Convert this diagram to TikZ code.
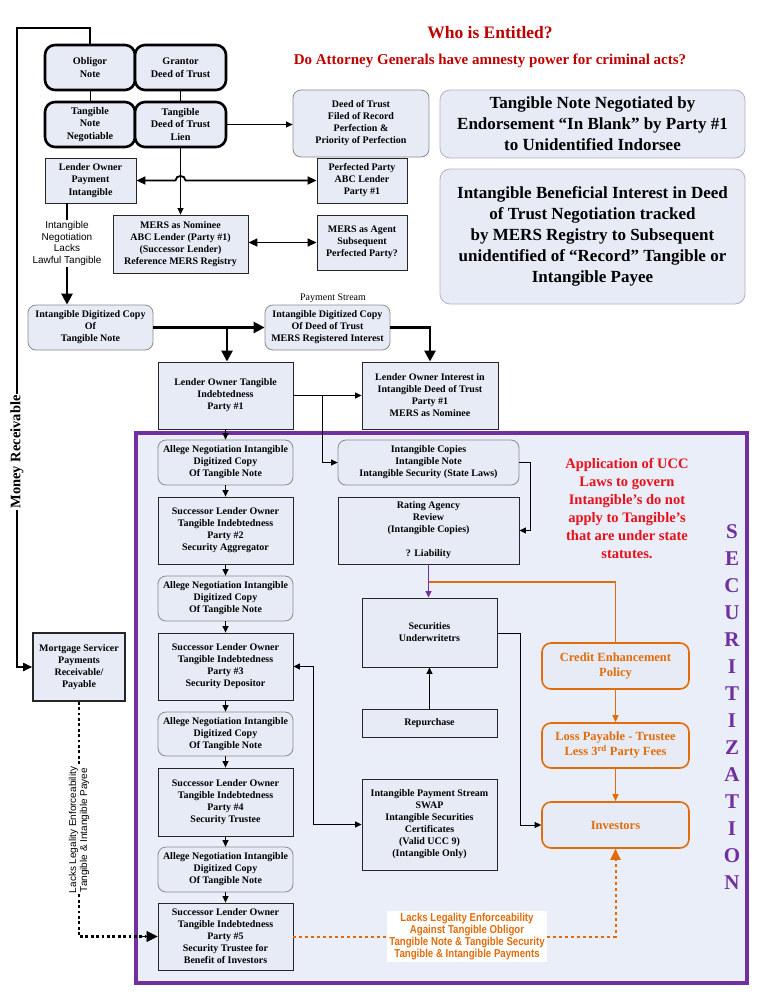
\documentclass[tikz,border=0pt]{standalone}
\usepackage{fontspec}
\setmainfont{Liberation Serif}
\newfontfamily\arialf{Liberation Sans}
\newfontfamily\narrowf[FakeStretch=0.84]{Liberation Sans}
\usetikzlibrary{arrows.meta}
\definecolor{boxfill}{HTML}{E6EBF5}
\definecolor{framefill}{HTML}{EAEEF8}
\definecolor{secpurple}{HTML}{7030A0}
\definecolor{darkred}{HTML}{C00000}
\definecolor{brightred}{HTML}{E8101A}
\definecolor{orng}{HTML}{E36C0A}
\definecolor{bigedge}{HTML}{B4AECA}
\tikzset{
  box/.style={draw=black!85,line width=0.9pt,fill=boxfill,align=center,inner sep=0pt,
    font=\bfseries\fontsize{10}{12}\selectfont},
  rbox/.style={box,draw=black!45,rounded corners=8pt,line width=0.8pt},
  tkbox/.style={box,draw=black,line width=2.6pt,rounded corners=10pt,
    font=\bfseries\fontsize{10.2}{12.6}\selectfont},
  obox/.style={box,draw=orng,text=orng,line width=1.6pt,rounded corners=9pt,
    font=\bfseries\fontsize{12.5}{15}\selectfont},
  bigbox/.style={box,draw=bigedge,line width=0.8pt,rounded corners=10pt,
    font=\bfseries\fontsize{17}{21}\selectfont},
  arthin/.style={line width=0.8pt,-{Triangle[length=6.5pt,width=6pt]}},
  arthk/.style={line width=2.6pt,-{Triangle[length=11pt,width=11pt]}},
  armed/.style={line width=1.8pt,{Triangle[length=9pt,width=8pt]}-{Triangle[length=9pt,width=8pt]}},
  dotln/.style={line width=2.8pt,dash pattern=on 2.8pt off 2.6pt},
  orline/.style={draw=orng,line width=1.2pt},
}
\begin{document}
\begin{tikzpicture}[x=1pt,y=-1pt]
\useasboundingbox (0,0) rectangle (768,994);
\fill[white] (0,0) rectangle (768,994);

% securitization frame
\draw[secpurple,line width=3.5pt,fill=framefill] (136,433) rectangle (747,983);

% titles
\node[text=darkred,font=\bfseries\fontsize{17.5}{20}\selectfont] (t1) at (490,33) {Who is Entitled?};
\node[text=darkred,font=\bfseries\fontsize{15}{17}\selectfont] (t2) at (490,61) {Do Attorney Generals have amnesty power for criminal acts?};

% top boxes
\node[tkbox,minimum width=90pt,minimum height=45pt] (obl) at (90,67.5) {Obligor\\Note};
\node[tkbox,minimum width=91pt,minimum height=45pt] (gra) at (180.5,67.5) {Grantor\\Deed of Trust};
\node[tkbox,minimum width=90pt,minimum height=45pt] (tnn) at (90,124.5) {Tangible\\Note\\Negotiable};
\node[tkbox,minimum width=91pt,minimum height=45pt] (tdt) at (180.5,124.5) {Tangible\\Deed of Trust\\Lien};
\node[rbox,minimum width=136pt,minimum height=67pt] (dtf) at (361,123.5) {Deed of Trust\\Filed of Record\\Perfection \&\\Priority of Perfection};
\node[box,minimum width=91pt,minimum height=45pt,font=\bfseries\fontsize{10}{12.5}\selectfont] (lo) at (90.5,180.5) {Lender Owner\\Payment\\Intangible};
\node[box,minimum width=90pt,minimum height=45pt] (pp) at (362,180.5) {Perfected Party\\ABC Lender\\Party \#1};
\node[box,minimum width=135pt,minimum height=58pt] (mn) at (180.5,244) {MERS as Nominee\\ABC Lender (Party \#1)\\(Successor Lender)\\Reference MERS Registry};
\node[box,minimum width=90pt,minimum height=55pt] (ma) at (362,242.5) {MERS as Agent\\Subsequent\\Perfected Party?};

\node[bigbox,minimum width=305pt,minimum height=68pt] (tb1) at (592.5,124) {Tangible Note Negotiated by\\Endorsement “In Blank” by Party \#1\\to Unidentified Indorsee};
\node[bigbox,minimum width=305pt,minimum height=135pt] (tb2) at (592.5,236.5) {Intangible Beneficial Interest in Deed\\of Trust Negotiation tracked\\by MERS Registry to Subsequent\\unidentified of “Record” Tangible or\\Intangible Payee};

\node[font=\arialf\fontsize{10}{11.7}\selectfont,align=center,inner sep=1.5pt] (neg) at (67,243.5) {Intangible\\Negotiation\\Lacks\\Lawful Tangible};

\node[rbox,minimum width=125pt,minimum height=45pt] (c1) at (90.5,327.5) {Intangible Digitized Copy\\Of\\Tangible Note};
\node[rbox,minimum width=125pt,minimum height=45pt] (c2) at (327.5,327.5) {Intangible Digitized Copy\\Of Deed of Trust\\MERS Registered Interest};
\node[font=\fontsize{10}{11}\selectfont] (ps) at (333,298) {Payment Stream};

\node[box,minimum width=135pt,minimum height=67pt] (lt) at (225.5,395.5) {Lender Owner Tangible\\Indebtedness\\Party \#1};
\node[box,minimum width=136pt,minimum height=67pt] (li) at (430,395.5) {Lender Owner Interest in\\Intangible Deed of Trust\\Party \#1\\MERS as Nominee};

% left column inside frame
\node[rbox,minimum width=135pt,minimum height=45pt] (a1) at (225.5,462.5) {Allege Negotiation Intangible\\Digitized Copy\\Of Tangible Note};
\node[box,minimum width=135pt,minimum height=67pt] (s2) at (225.5,530.5) {Successor Lender Owner\\Tangible Indebtedness\\Party \#2\\Security Aggregator};
\node[rbox,minimum width=135pt,minimum height=45pt] (a2) at (225.5,598.5) {Allege Negotiation Intangible\\Digitized Copy\\Of Tangible Note};
\node[box,minimum width=135pt,minimum height=67pt] (s3) at (225.5,666.5) {Successor Lender Owner\\Tangible Indebtedness\\Party \#3\\Security Depositor};
\node[rbox,minimum width=135pt,minimum height=44pt] (a3) at (225.5,734) {Allege Negotiation Intangible\\Digitized Copy\\Of Tangible Note};
\node[box,minimum width=135pt,minimum height=68pt] (s4) at (225.5,802) {Successor Lender Owner\\Tangible Indebtedness\\Party \#4\\Security Trustee};
\node[rbox,minimum width=135pt,minimum height=45pt] (a4) at (225.5,869.5) {Allege Negotiation Intangible\\Digitized Copy\\Of Tangible Note};
\node[box,minimum width=135pt,minimum height=67pt] (s5) at (225.5,936.5) {Successor Lender Owner\\Tangible Indebtedness\\Party \#5\\Security Trustee for\\Benefit of Investors};

% middle column
\node[rbox,minimum width=181pt,minimum height=45pt] (ic) at (428.5,462.5) {Intangible Copies\\Intangible Note\\Intangible Security (State Laws)};
\node[box,minimum width=181pt,minimum height=67pt] (ra) at (428.5,530.5) {Rating Agency\\Review\\(Intangible Copies)\\[12pt]? Liability};
\node[box,minimum width=135pt,minimum height=69pt] (su) at (429.5,632.5) {Securities\\Underwritetrs};
\node[box,minimum width=135pt,minimum height=28pt] (rp) at (429.5,723) {Repurchase};
\node[box,minimum width=135pt,minimum height=91pt] (sw) at (429.5,824.5) {Intangible Payment Stream\\SWAP\\Intangible Securities\\Certificates\\(Valid UCC 9)\\(Intangible Only)};

% orange column
\node[obox,minimum width=147pt,minimum height=46pt] (ce) at (615.5,666) {Credit Enhancement\\Policy};
\node[obox,minimum width=147pt,minimum height=45pt] (lp) at (615.5,745.5) {Loss Payable - Trustee\\Less 3\textsuperscript{rd} Party Fees};
\node[obox,minimum width=147pt,minimum height=46pt] (inv) at (615.5,825) {Investors};

\node[text=brightred,font=\bfseries\fontsize{14.5}{18}\selectfont,align=center] (ucc) at (627,508) {Application of UCC\\Laws to govern\\Intangible's do not\\apply to Tangible’s\\that are under state\\statutes.};
\node[text=secpurple,font=\bfseries\fontsize{21}{27}\selectfont,align=center] (sec) at (732,707.5) {S\\E\\C\\U\\R\\I\\T\\I\\Z\\A\\T\\I\\O\\N};

% left side
\node[box,line width=1.6pt,minimum width=92pt,minimum height=68pt] (ms) at (79,667) {Mortgage Servicer\\Payments\\Receivable/\\Payable};
\node[rotate=90,fill=white,font=\bfseries\fontsize{14.5}{16}\selectfont,inner sep=1pt] (mr) at (17,452) {Money Receivable};
\node[rotate=90,fill=white,font=\arialf\fontsize{10}{11}\selectfont,align=center,inner sep=1pt] (ll) at (79,830) {Lacks Legality Enforceability\\Tangible \& Intangible Payee};
\node[fill=white,text=orng,font=\narrowf\bfseries\fontsize{11.5}{12.2}\selectfont,align=center,inner sep=2pt] (ol) at (467,936.5) {Lacks Legality Enforceability\\Against Tangible Obligor\\Tangible Note \& Tangible Security\\Tangible \& Intangible Payments};

% ---------- connectors ----------
\draw[line width=0.8pt] (obl) -- (tnn);
\draw[line width=0.8pt] (gra) -- (tdt);
\draw[arthin] (tdt.east) -- (tdt.east -| dtf.west);
\draw[arthin] (tdt.south) -- (mn.north);
\draw[armed] (lo.east) -- (175.5,180.5) .. controls (175.5,174.5) and (185.5,174.5) .. (185.5,180.5) -- (pp.west);
\draw[armed] (mn.east |- ma.west) -- (ma.west);

\draw[line width=1.8pt] (obl.north) -- (90,28) -- (17,28) -- (mr.east);
\draw[line width=1.8pt,-{Triangle[length=9pt,width=8pt]}] (mr.west) -- (17,667) -- (ms.west);

\draw[line width=2.6pt] (lo.south -| neg.north) -- (neg.north);
\draw[arthk] (neg.south) -- (neg.south |- c1.north);
\draw[arthk] (c1.east) -- (c2.west);
\draw[arthk] (c1.east -| 227,0) -- (227,0 |- lt.north);
\draw[arthk] (c2.east) -| (li.north);

\draw[arthin] (lt.east) -- (li.west);
\draw[arthin] (322,395.5) |- (ic.west);
\draw[arthin] (lt.south) -- (a1.north);
\draw[arthin] (a1.south) -- (s2.north);
\draw[arthin] (s2.south) -- (a2.north);
\draw[arthin] (a2.south) -- (s3.north);
\draw[arthin] (s3.south) -- (a3.north);
\draw[arthin] (a3.south) -- (s4.north);
\draw[arthin] (s4.south) -- (a4.north);
\draw[arthin] (a4.south) -- (s5.north);

\draw[arthin] (ic.east) -- ++(11,0) |- (ra.east);
\draw[orline] (ra.south |- 0,582) -| (ce.north);
\draw[arthin,draw=secpurple,-{Triangle[length=6.5pt,width=6pt,fill=secpurple]}] (ra.south) -- (ra.south |- su.north);
\draw[arthin] (rp.north) -- (su.south);
\draw[arthin] (su.east |- 0,633) -- (520,633) |- (inv.west);
\draw[line width=0.8pt,{Triangle[length=6.5pt,width=6pt]}-{Triangle[length=6.5pt,width=6pt]}] (s3.east) -- (313,666.5) |- (sw.west);
\draw[orline,-{Triangle[length=7pt,width=6pt]},orng] (ce.south) -- (lp.north);
\draw[orline,-{Triangle[length=7pt,width=6pt]},orng] (lp.south) -- (inv.north);

\draw[dotln] (ms.south) -- (ll.east);
\draw[dotln] (ll.west) -- (79,936.5) -- (s5.west -| 145,0);
\draw[line width=0.5pt,-{Triangle[length=11pt,width=11pt]}] (140,936.5) -- (s5.west);
\draw[orng,line width=2pt,dash pattern=on 3pt off 3pt] (s5.east) -- (ol.west);
\draw[orng,line width=2pt,dash pattern=on 3pt off 3pt,-{Triangle[length=11pt,width=10pt,fill=orng]}] (ol.east) -- (615.5,936.5) -- (inv.south);
\end{tikzpicture}
\end{document}
